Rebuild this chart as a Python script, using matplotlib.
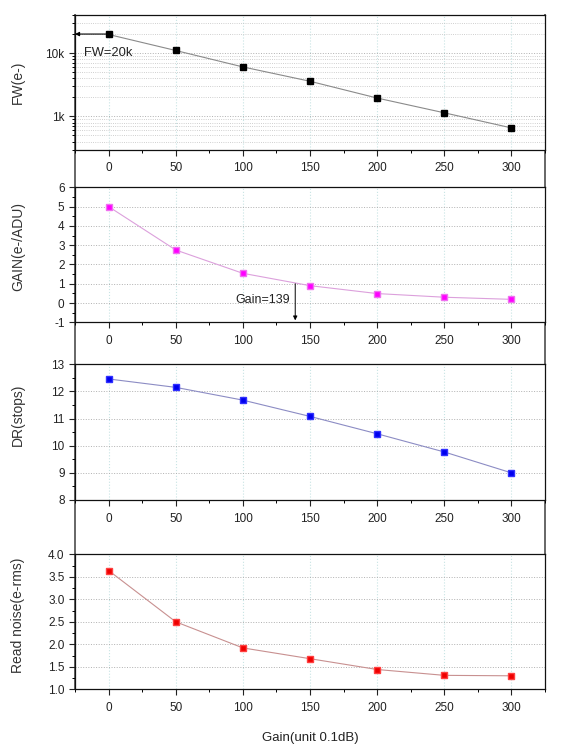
import matplotlib
matplotlib.use("Agg")
import matplotlib.pyplot as plt
from matplotlib.ticker import MultipleLocator, FixedLocator, NullFormatter, FuncFormatter
from matplotlib.lines import Line2D

plt.rcParams["font.family"] = ["Liberation Sans", "DejaVu Sans"]
plt.rcParams["axes.unicode_minus"] = False

# Data
gain = [0, 50, 100, 150, 200, 250, 300]
full_well = [19700, 11000, 6050, 3590, 1950, 1140, 658]
gain_e_adu = [5.0, 2.75, 1.54, 0.90, 0.49, 0.30, 0.19]
dyn_range = [12.46, 12.15, 11.68, 11.08, 10.44, 9.77, 9.0]
read_noise = [3.64, 2.50, 1.92, 1.68, 1.44, 1.31, 1.30]

x_ticks = [0, 50, 100, 150, 200, 250, 300]
fw_ticks = [1000, 10000]
fw_tick_labels = ["1k", "10k"]


def style_axis(ax, label, label_y):
    ax.set_xlim(-25, 325)
    ax.xaxis.set_major_locator(FixedLocator(x_ticks))
    ax.xaxis.set_minor_locator(MultipleLocator(25))
    ax.tick_params(which="major", direction="out", length=4, width=0.8,
                   labelsize=8.5, colors="#222222", top=False, right=False)
    ax.tick_params(which="minor", direction="out", length=2.3, width=0.7,
                   top=False, right=False)
    ax.tick_params(axis="x", which="major", pad=5)
    ax.tick_params(axis="y", which="major", pad=3.5)
    ax.grid(axis="x", which="major", color="#c8e4e4", linestyle=":", linewidth=0.8)
    ax.grid(axis="y", which="major", color="#b0b0b0", linestyle=":", linewidth=0.7)
    for s in ax.spines.values():
        s.set_linewidth(0.9)
        s.set_color("#111111")
    ax.set_axisbelow(True)
    ax.set_ylabel(label, fontsize=10, color="#333333")
    ax.yaxis.set_label_coords(-0.106, label_y)


fig = plt.figure(figsize=(5.74, 7.52), dpi=100)
L, W = 75 / 574, 470 / 574
panels = [(15, 149.5), (187.3, 322.3), (364.3, 500), (554.3, 689.3)]
axes = []
for top, bot in panels:
    ax = fig.add_axes([L, 1 - bot / 752, W, (bot - top) / 752])
    axes.append(ax)

ax1, ax2, ax3, ax4 = axes

# FW panel (log)
ax1.set_yscale("log")
ax1.plot(gain, full_well, color="#8a8a8a", lw=0.8, zorder=2)
ax1.plot(gain, full_well, "s", color="black", ms=4.8, zorder=3)
ax1.set_ylim(300, 40000)
ax1.yaxis.set_major_locator(FixedLocator(fw_ticks))
ax1.yaxis.set_major_formatter(FuncFormatter(lambda v, p: fw_tick_labels[fw_ticks.index(v)] if v in fw_ticks else ""))
ax1.yaxis.set_minor_locator(FixedLocator([m * 10 ** d for d in (2, 3, 4) for m in range(2, 10)]))
ax1.yaxis.set_minor_formatter(NullFormatter())
style_axis(ax1, "FW(e-)", 0.5)
ax1.grid(axis="y", which="minor", color="#c0c0c0", linestyle=":", linewidth=0.6)
ax1.annotate("", xy=(-25, 20000), xytext=(0, 20000), annotation_clip=False,
             arrowprops=dict(arrowstyle="-|>", color="black", lw=0.8, mutation_scale=6,
                             shrinkA=0, shrinkB=0), zorder=4)
ax1.text(-18, 10000, "FW=20k", fontsize=9.3, va="center", ha="left", color="#222222")

# GAIN panel
ax2.plot(gain, gain_e_adu, color="#dca0dc", lw=0.8, zorder=2)
ax2.plot(gain, gain_e_adu, "s", color="#ff00ff", mec="#f070f0", ms=4.8, zorder=3)
ax2.set_ylim(-1, 6)
ax2.yaxis.set_major_locator(MultipleLocator(1))
ax2.yaxis.set_minor_locator(MultipleLocator(0.5))
style_axis(ax2, "GAIN(e-/ADU)", 0.565)
ax2.annotate("", xy=(139, -0.9), xytext=(139, 1.0),
             arrowprops=dict(arrowstyle="-|>", color="black", lw=0.7, mutation_scale=6,
                             shrinkA=0, shrinkB=0), zorder=4)
ax2.text(135, 0.15, "Gain=139", fontsize=9, va="center", ha="right", color="#222222")

# DR panel
ax3.plot(gain, dyn_range, color="#8c8cc4", lw=0.8, zorder=2)
ax3.plot(gain, dyn_range, "s", color="#0000ee", mec="#3030ff", ms=4.8, zorder=3)
ax3.set_ylim(8, 13)
ax3.yaxis.set_major_locator(MultipleLocator(1))
ax3.yaxis.set_minor_locator(MultipleLocator(0.5))
style_axis(ax3, "DR(stops)", 0.63)

# Read noise panel
ax4.plot(gain, read_noise, color="#c89090", lw=0.8, zorder=2)
ax4.plot(gain, read_noise, "s", color="#ee0000", mec="#ff4040", ms=4.8, zorder=3)
ax4.set_ylim(1.0, 4.0)
ax4.yaxis.set_major_locator(MultipleLocator(0.5))
ax4.yaxis.set_minor_locator(MultipleLocator(0.25))
ax4.yaxis.set_major_formatter(FuncFormatter(lambda v, p: f"{v:.1f}"))
style_axis(ax4, "Read noise(e-rms)", 0.55)
ax4.set_xlabel("Gain(unit 0.1dB)", fontsize=9.5, color="#222222", labelpad=13)

# outer frame running through the gaps between panels
y_top, y_bot = 1 - 15 / 752, 1 - 689.3 / 752
for xf in (L, L + W):
    fig.add_artist(Line2D([xf, xf], [y_bot, y_top], transform=fig.transFigure,
                          color="#666666", lw=1.4, zorder=0))

fig.savefig("out.png", dpi=100, facecolor="white")
